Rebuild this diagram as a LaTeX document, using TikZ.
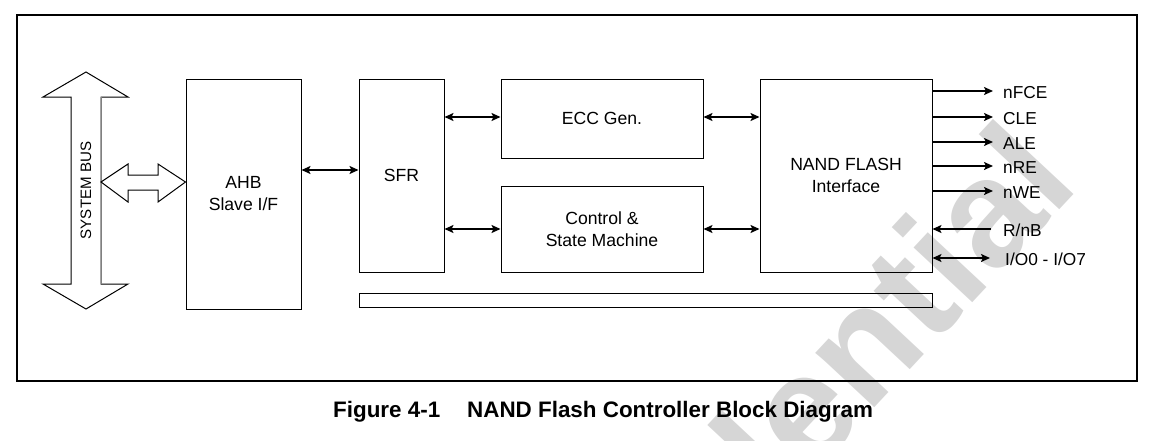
\documentclass[tikz,border=0pt]{standalone}
\usepackage{fontspec}
\setmainfont{Liberation Sans}
\usetikzlibrary{arrows.meta}
\begin{document}
\begin{tikzpicture}[x=1pt,y=-1pt,
  tip/.tip={Stealth[length=9pt,width=8pt,inset=2pt]},
  blk/.style={draw,line width=1pt,inner sep=0pt,align=center,font=\fontsize{17.6}{22}\selectfont},
  link/.style={line width=1.9pt,tip-tip},
  outarr/.style={line width=1.9pt,-tip},
  sig/.style={anchor=west,inner sep=0pt,font=\fontsize{17.3}{20}\selectfont},
  captext/.style={anchor=base west,inner sep=0pt,font=\bfseries\fontsize{22.4}{26}\selectfont}]
\useasboundingbox (0,0) rectangle (1159,440);
% watermark
\begin{scope}
\clip (0,0) rectangle (1159,440);
\node[rotate=47,anchor=base east,inner sep=0pt,text=black!16,font=\bfseries\fontsize{152}{152}\selectfont] (wm) at (1081,187) {Confidential};
\end{scope}
% frame
\draw[line width=2pt] (17,15) rectangle (1137,381);
% system bus
\draw[line width=1pt] (86,72) -- (128,97) -- (101,97) -- (101,284) -- (128,284) -- (86,309) -- (43,284) -- (71,284) -- (71,97) -- (43,97) -- cycle;
\draw[line width=1pt,gray] (101,97) -- (101,284);
\node[rotate=90,inner sep=0pt,font=\fontsize{15.1}{16}\selectfont] (busl) at (86,190.5) {SYSTEM BUS};
% blocks
\node[blk,minimum width=115pt,minimum height=230pt] (ahb) at (243.5,194) {AHB\\Slave I/F};
\node[blk,minimum width=85pt,minimum height=193pt] (sfr) at (401.5,175.5) {SFR};
\node[blk,minimum width=202pt,minimum height=79pt] (ecc) at (602,118.5) {ECC Gen.};
\node[blk,minimum width=202pt,minimum height=86pt] (ctl) at (602,229) {Control \&\\State Machine};
\node[blk,minimum width=172pt,minimum height=193pt] (nand) at (846,175.5) {NAND FLASH\\Interface};
\node[blk,minimum width=573pt,minimum height=14pt] (bar) at (645.5,300) {};
% bus to AHB wide arrow
\draw[line width=1pt] (101,182) -- (128,164) -- (128,175) -- (158,175) -- (158,164) -- (ahb.west |- 0,182) -- (158,202) -- (158,190) -- (128,190) -- (128,202) -- cycle;
% internal links
\draw[link] (ahb.east |- 0,170) -- (sfr.west |- 0,170);
\draw[link] (sfr.east |- 0,117) -- (ecc.west |- 0,117);
\draw[link] (sfr.east |- 0,229) -- (ctl.west |- 0,229);
\draw[link] (ecc.east |- 0,117) -- (nand.west |- 0,117);
\draw[link] (ctl.east |- 0,229) -- (nand.west |- 0,229);
% output signals
\foreach \n/\y/\t in {fce/91/nFCE, cle/117/CLE, ale/142/ALE, nre/166/nRE, nwe/191/nWE} {
  \coordinate (\n) at (993,\y);
  \draw[outarr] (nand.east |- \n) -- (\n);
  \node[sig] (l\n) at (1003,\y+1.5) {\t};
}
\coordinate (rnb) at (991,229);
\draw[outarr] (rnb) -- (nand.east |- rnb);
\node[sig] (lrnb) at (1003,230) {R/nB};
\coordinate (io) at (990,258);
\draw[link] (nand.east |- io) -- (io);
\node[sig] (lio) at (1005,259) {I/O0 - I/O7};
% caption
\node[captext] (figno) at (333,417) {Figure 4-1};
\node[captext] (captxt) at (467,417) {NAND Flash Controller Block Diagram};
\end{tikzpicture}
\end{document}
